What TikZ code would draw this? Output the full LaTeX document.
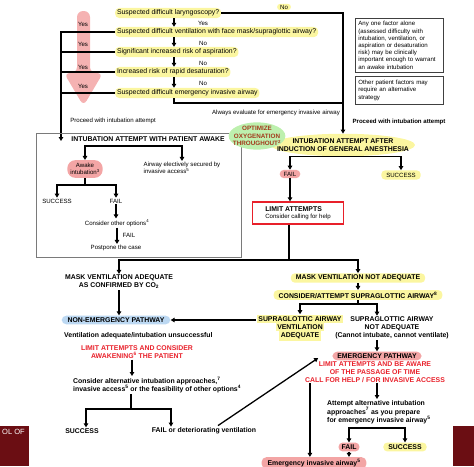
\documentclass[tikz,border=0pt]{standalone}
\usepackage{fontspec}
\setmainfont{Liberation Sans}
\usepackage{xcolor}
\usepackage{tikz}
\usetikzlibrary{arrows.meta,calc,positioning,shapes.geometric}
\definecolor{ayellow}{HTML}{FBF6A0}
\definecolor{apink}{HTML}{F3A5A5}
\definecolor{agreen}{HTML}{BDF0AE}
\definecolor{ablue}{HTML}{BCD8F2}
\definecolor{ared}{HTML}{E8202A}
\definecolor{abrown}{HTML}{A33A1C}
\definecolor{amaroon}{HTML}{6B0E13}
\definecolor{agray}{HTML}{7A7A7A}
\newcommand{\fmain}{\fontsize{6.9}{8}\selectfont}
\newcommand{\fsmall}{\fontsize{6.1}{7.2}\selectfont}
\newcommand{\hlbox}[1]{{\setlength{\fboxsep}{1.5pt}\colorbox{ayellow}{#1}}}
\tikzset{
  >={Triangle[length=4pt,width=4.5pt]},
  aline/.style={black, line width=1.3pt},
  aarr/.style={aline, ->},
  atxt/.style={font=\fsmall, inner sep=1pt, align=center},
  abold/.style={font=\fmain\bfseries, inner sep=1pt, align=center},
  aq/.style={font=\fmain, fill=ayellow, rounded corners=4pt, inner sep=1.8pt, anchor=west},
  ahl/.style={abold, fill=ayellow, rounded corners=4pt, inner xsep=5pt, inner ysep=1.6pt},
  apl/.style={abold, fill=apink, rounded corners=4pt, inner xsep=5pt, inner ysep=2pt},
  ainfo/.style={draw=black!75, line width=0.6pt, font=\fsmall, align=left,
                text width=82pt, inner sep=3pt, anchor=north west},
}

\begin{document}
\begin{tikzpicture}[x=1pt,y=-1pt]
  \useasboundingbox (0,0) rectangle (474,466);

  % seta rosa dos "Yes"
  \fill[apink, opacity=0.85, rounded corners=6pt] (77,11) -- (90,11) -- (90,73) -- (103,73)
        -- (83.5,106) -- (64,73) -- (77,73) -- cycle;
  \node[atxt] (py1) at (83,24) {Yes};
  \node[atxt] (py2) at (83,44) {Yes};
  \node[atxt] (py3) at (83,67) {Yes};
  \node[atxt] (py4) at (83,86) {Yes};

  % perguntas
  \node[aq] (q1) at (115,13) {Suspected difficult laryngoscopy?};
  \node[aq] (q2) at (115,32) {Suspected difficult ventilation with face mask/supraglottic airway?};
  \node[aq] (q3) at (115,52) {Significant increased risk of aspiration?};
  \node[aq] (q4) at (115,72) {Increased risk of rapid desaturation?};
  \node[aq] (q5) at (115,93) {Suspected difficult emergency invasive airway};
  \coordinate (qx) at (174,0);
  \draw[aarr] (q1.south -| qx) -- (q2.north -| qx);
  \draw[aarr] (q2.south -| qx) -- (q3.north -| qx);
  \draw[aarr] (q3.south -| qx) -- (q4.north -| qx);
  \draw[aarr] (q4.south -| qx) -- (q5.north -| qx);
  \node[atxt] (y1) at (203,23) {Yes};
  \node[atxt] (n2) at (203,43) {No};
  \node[atxt] (n3) at (203,63) {No};
  \node[atxt] (n4) at (203,83) {No};

  \coordinate (lbot) at (61,141);
  \draw[aarr] (q2.west) -| (lbot);
  \foreach \q in {q3,q4,q5}
    \draw[aline] (\q.west) -- (\q.west -| lbot);

  % caixas de nota
  \node[ainfo, minimum height=54pt] (inf1) at (355,18) {Any one factor alone\\(assessed difficulty with\\intubation, ventilation, or\\aspiration or desaturation\\risk) may be clinically\\important enough to warrant\\an awake intubation};
  \node[ainfo, minimum height=28pt] (inf2) at (355,76) {Other patient factors may\\require an alternative\\strategy};

  \node[atxt, fill=ayellow, rounded corners=3pt, inner xsep=3pt] (n1) at (284,7) {No};
  \node[atxt] (alw) at (276,113) {Always evaluate for emergency invasive airway};
  \node[atxt] (prl) at (113,121) {Proceed with intubation attempt};
  \node[atxt, font=\fsmall\bfseries] (prr) at (399,122) {Proceed with intubation attempt};

  % intubacao acordado
  \draw[agray, line width=1pt] (36,133) rectangle (241,257);
  \node[abold] (awt) at (148,139) {INTUBATION ATTEMPT WITH PATIENT AWAKE};
  \node[atxt, fill=apink, rounded corners=8pt, inner sep=3pt] (awk) at (85,169) {Awake\\intubation\textsuperscript{3}};
  \node[atxt, align=left] (els) at (182,168) {Airway electively secured by\\invasive access\textsuperscript{5}};
  \coordinate (awbar) at (134,146);
  \draw[aarr] (awbar) -| (awk.north);
  \draw[aarr] (awbar) -| (els.north);
  \node[atxt] (su1) at (57,201) {SUCCESS};
  \node[atxt] (fa1) at (116,201) {FAIL};
  \coordinate (awsp) at (85,185);
  \draw[aline] (awk.south) -- (awsp);
  \draw[aarr] (awsp) -| (su1.north);
  \draw[aarr] (awsp) -| (fa1.north);
  \node[atxt] (oth) at (117,223) {Consider other options\textsuperscript{4}};
  \node[atxt] (pst) at (116,248) {Postpone the case};
  \draw[aarr] (fa1.south) -- (fa1.south |- oth.north);
  \draw[aarr] (oth.south) -- (oth.south |- pst.north)
        node[atxt, midway, right=4pt] (fa1b) {FAIL};

  % anestesia geral
  \node[ellipse, fill=ayellow, font=\fmain\bfseries, align=center,
        inner xsep=-15pt, inner ysep=1.5pt] (gen) at (343,145) {INTUBATION ATTEMPT AFTER\\INDUCTION OF GENERAL ANESTHESIA};
  \node[ellipse, fill=agreen, text=abrown, font=\fontsize{6.3}{7.4}\selectfont\bfseries, align=center,
        inner xsep=-4pt, inner ysep=0pt] (opt) at (257,136) {OPTIMIZE\\OXYGENATION\\THROUGHOUT\textsuperscript{2}};
  \coordinate (qjoin) at (343,103);
  \draw[aarr] (q1.east) -| (gen.north);
  \draw[aline] (q5.south -| qx) |- (qjoin);
  \node[atxt, fill=apink, rounded corners=4pt, inner xsep=4pt, inner ysep=2pt] (fa2) at (290,174) {FAIL};
  \node[atxt, fill=ayellow, rounded corners=4pt, inner xsep=5pt, inner ysep=2.5pt] (su2) at (401,175) {SUCCESS};
  \draw[aarr] (gen.south) -| (fa2.north);
  \draw[aarr] (gen.south) -| (su2.north);
  \node[draw=ared, line width=1.3pt, minimum width=91pt, minimum height=22pt, align=left,
        font=\fsmall, inner sep=2pt] (lim) at (298,213) {{\fmain\bfseries LIMIT ATTEMPTS}\\Consider calling for help};
  \draw[aarr] (fa2.south) -- (fa2.south |- lim.north);

  % ventilacao por mascara
  \node[abold] (mva) at (119,282) {MASK VENTILATION ADEQUATE\\AS CONFIRMED BY CO\textsubscript{2}};
  \node[ahl] (mvn) at (358,278) {MASK VENTILATION NOT ADEQUATE};
  \coordinate (mid) at (289,260);
  \draw[aline] (lim.south -| mid) -- (mid);
  \draw[aarr] (mid) -| (mva.north);
  \draw[aarr] (mid) -| (mvn.north);

  % via nao emergencial
  \node[abold, fill=ablue, rounded corners=5pt, inner xsep=6pt, inner ysep=2pt] (nem) at (116,320) {NON-EMERGENCY PATHWAY};
  \draw[aarr] (mva.south) -- (mva.south |- nem.north);
  \node[abold, anchor=west] (vau) at (63,336) {Ventilation adequate/intubation unsuccessful};
  \node[abold, text=ared] (lac) at (137,352) {LIMIT ATTEMPTS AND CONSIDER\\AWAKENING\textsuperscript{6} THE PATIENT};
  \node[abold, align=left, anchor=north west] (alt) at (72,376) {Consider alternative intubation approaches,\textsuperscript{7}\\invasive access\textsuperscript{5} or the feasibility of other options\textsuperscript{4}};
  \coordinate (lx) at (132,0);
  \draw[aarr] (lac.south -| lx) -- (alt.north -| lx);
  \node[abold] (su3) at (82,431) {SUCCESS};
  \node[abold] (fa3) at (204,431) {FAIL or deteriorating ventilation};
  \coordinate (lsp) at (131,409);
  \coordinate (lsl) at (86,409);
  \coordinate (lsr) at (171,409);
  \draw[aline] (alt.south -| lsp) -- (lsp);
  \draw[aarr] (lsp) -- (lsl) -- (lsl |- su3.north);
  \draw[aarr] (lsp) -- (lsr) -- (lsr |- fa3.north);

  % mascara laringea
  \node[ahl] (csg) at (358,295) {CONSIDER/ATTEMPT SUPRAGLOTTIC AIRWAY\textsuperscript{8}};
  \draw[aarr] (mvn.south) -- (csg.north);
  \node[abold] (sok) at (300,328) {\hlbox{SUPRAGLOTTIC AIRWAY}\\\hlbox{VENTILATION}\\\hlbox{ADEQUATE}};
  \node[abold] (sno) at (392,328) {SUPRAGLOTTIC AIRWAY\\NOT ADEQUATE\\(Cannot intubate, cannot ventilate)};
  \node[apl, rounded corners=5pt] (emg) at (377,356) {EMERGENCY PATHWAY};
  \coordinate (rsp) at (358,304);
  \draw[aline] (csg.south) -- (rsp);
  \draw[aarr] (rsp) -| (sok.north);
  \draw[aarr] (rsp) -| (sno.north -| emg.north);
  \draw[aarr] (sok.west |- nem.east) -- (nem.east);
  \draw[aarr] (sno.south -| emg.north) -- (emg.north);

  % via emergencial
  \node[abold, text=ared, anchor=north] (emt) at (375,360) {LIMIT ATTEMPTS AND BE AWARE\\OF THE PASSAGE OF TIME\\CALL FOR HELP / FOR INVASIVE ACCESS};
  \node[abold, align=left, anchor=north west, font=\fontsize{6.9}{8.8}\selectfont\bfseries] (atr) at (326,399) {Attempt alternative intubation\\approaches\textsuperscript{7} as you prepare\\for emergency invasive airway\textsuperscript{5}};
  \draw[aarr] (emt.south -| emg.north) -- (atr.north -| emg.north);
  \node[apl, inner xsep=3pt] (fa4) at (349,447) {FAIL};
  \node[ahl, inner ysep=2pt] (su4) at (405,447) {SUCCESS};
  \coordinate (rsp2) at (376,428);
  \draw[aarr] (rsp2) -| (fa4.north);
  \draw[aarr] (rsp2) -| (su4.north);
  \node[apl, rounded corners=5pt, inner xsep=6pt] (eia) at (314,463) {Emergency invasive airway\textsuperscript{5}};
  \draw[aarr] (fa4.south) -- (fa4.south |- eia.north);
  \coordinate (emd) at ($(emt.south west)+(6,0)$);
  \draw[aarr] (emd) -- (emd |- eia.north);
  \draw[aarr] ($(fa3.north)+(14,-1)$) -- ($(emg.west)+(-14,2)$);

  % cantos do slide
  \fill[amaroon] (0,426) rectangle (29,466);
  \fill[amaroon] (453,426) rectangle (474,466);
  \node[anchor=west, text=white, font=\fontsize{7.5}{9}\selectfont, inner sep=0pt] (sch) at (2,432) {OL OF};

\end{tikzpicture}
\end{document}
